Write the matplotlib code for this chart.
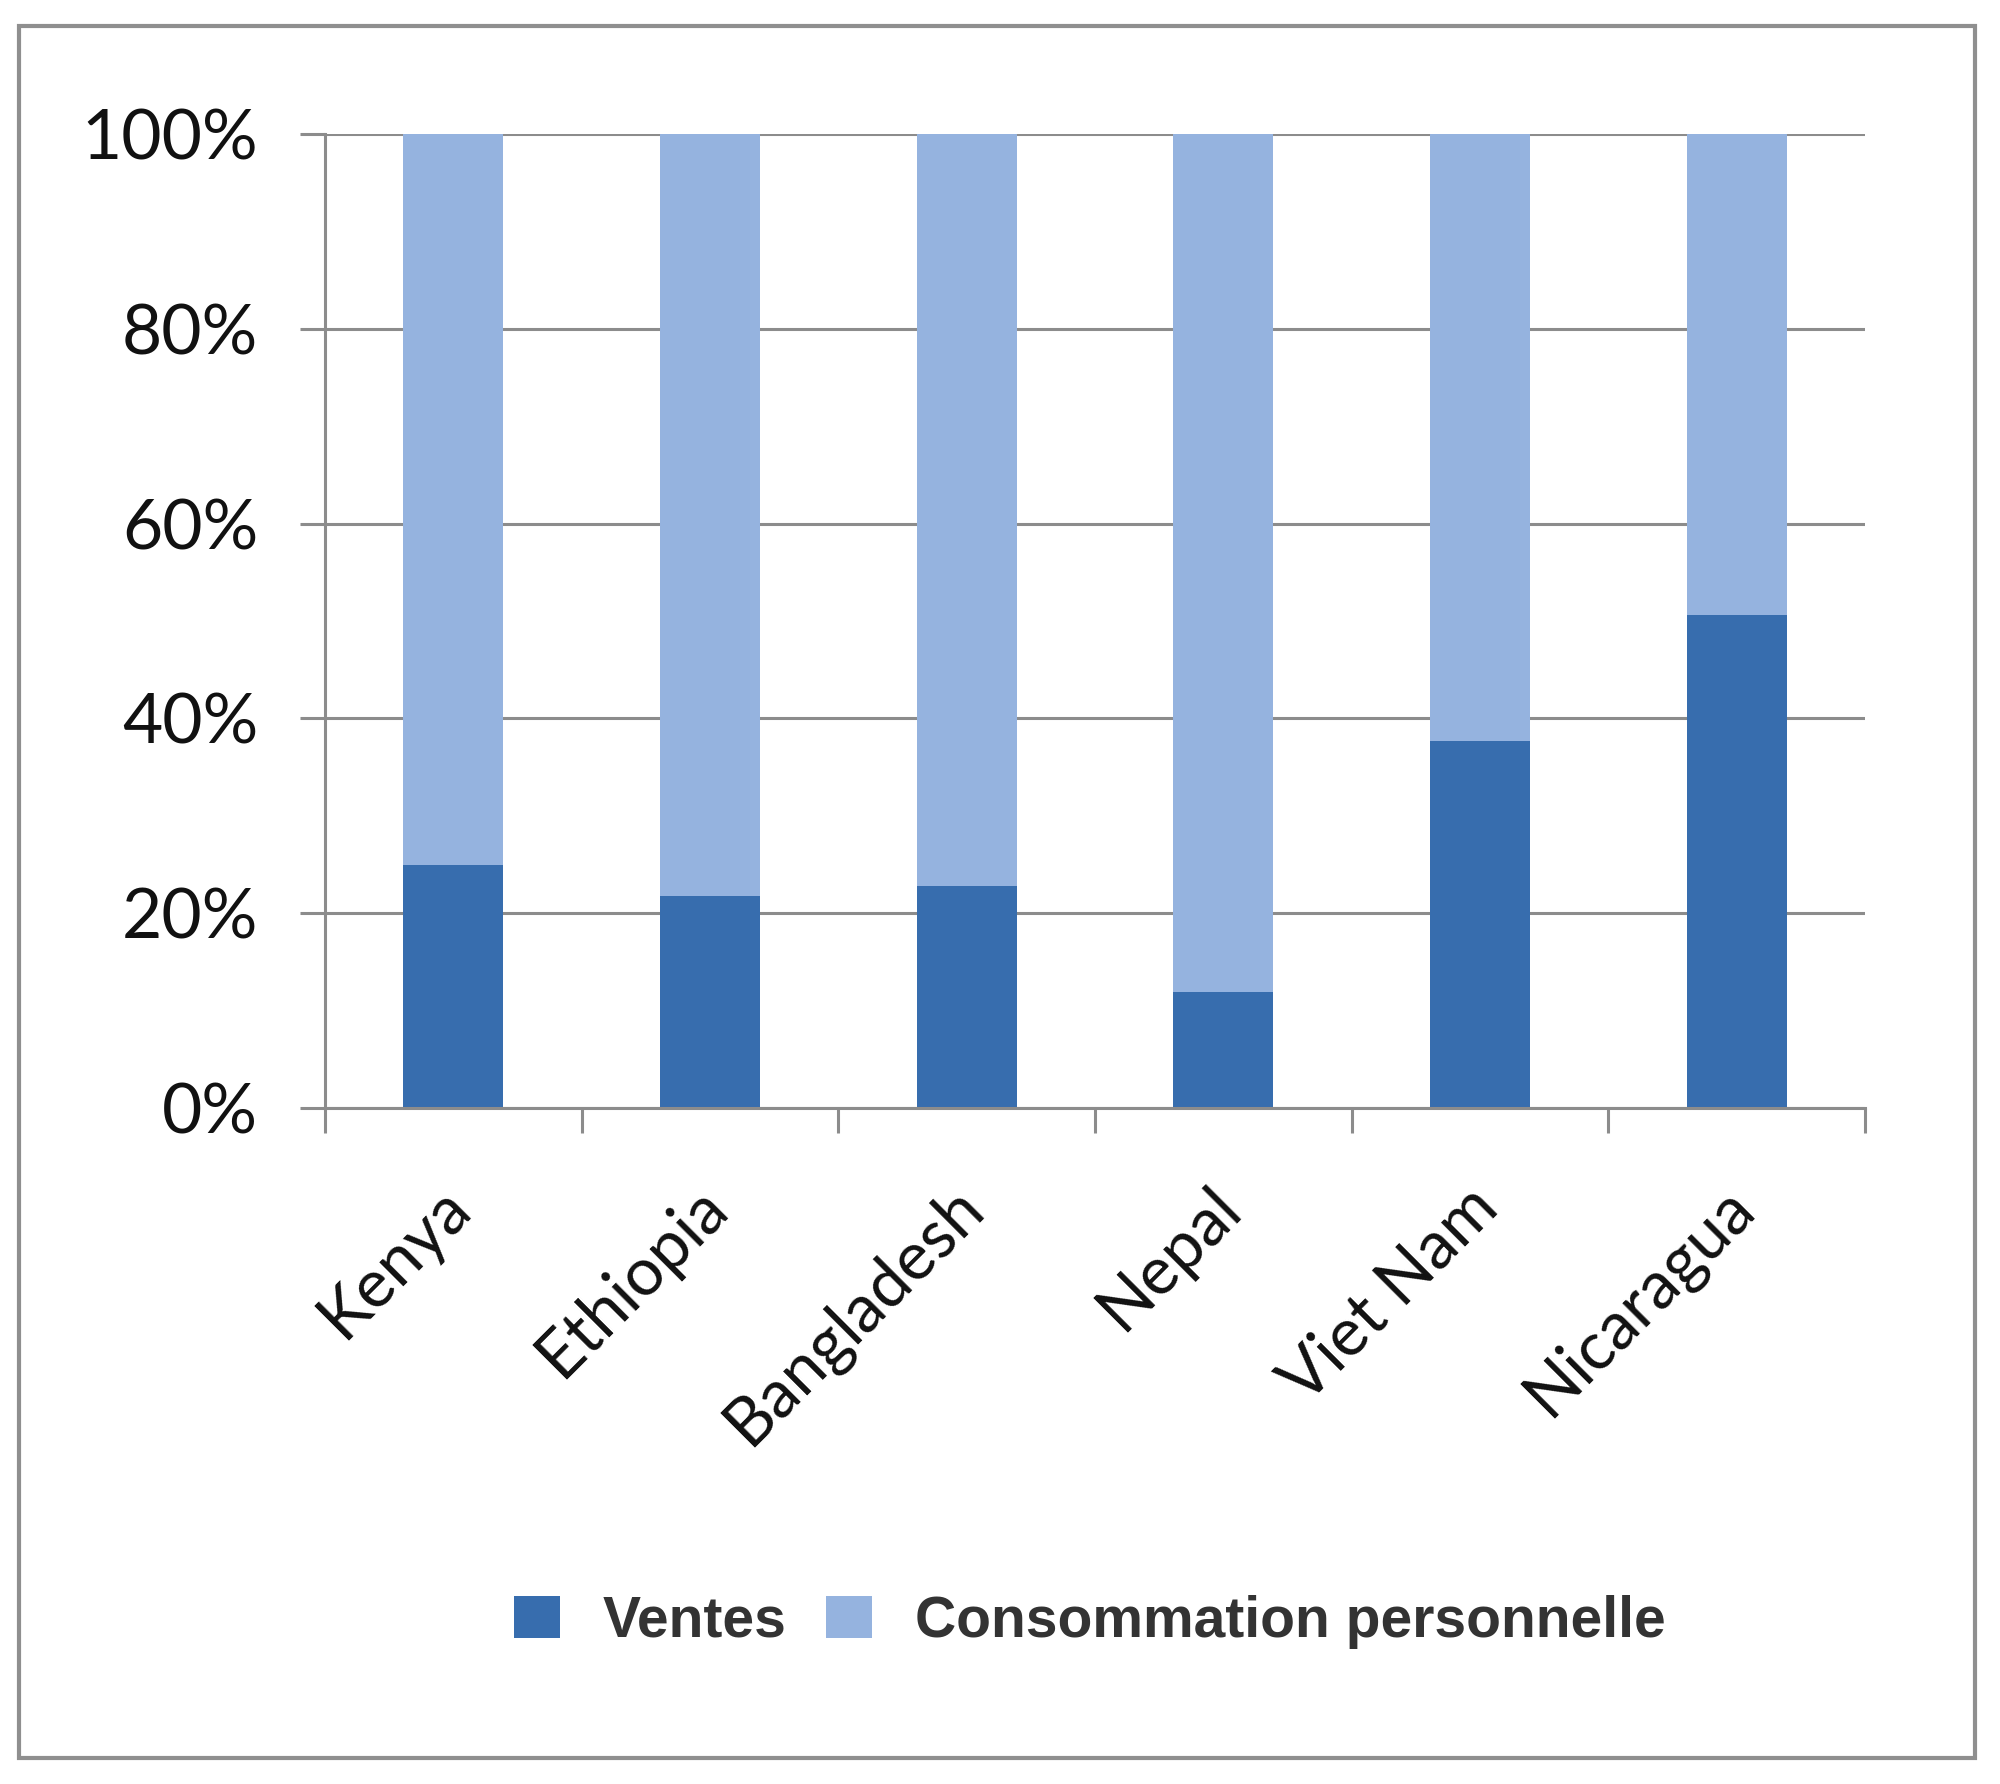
import matplotlib
matplotlib.use("Agg")
import matplotlib.pyplot as plt
from matplotlib.patches import Rectangle, Patch
import matplotlib.transforms as mtransforms
import numpy as np

countries = ["Kenya", "Ethiopia", "Bangladesh", "Nepal", "Viet Nam", "Nicaragua"]
ventes = [24.9, 21.8, 22.8, 11.9, 37.7, 50.6]
consommation = [100 - v for v in ventes]
y_ticks = [0, 20, 40, 60, 80, 100]
y_labels = ["0%", "20%", "40%", "60%", "80%", "100%"]
series_names = ["Ventes", "Consommation personnelle"]

dark = "#376DAE"
light = "#95B3DF"
grid_c = "#8C8C8C"

fig = plt.figure(figsize=(20, 17.84), dpi=100)
fig.patches.append(Rectangle((19/2000, 1-1758/1784), (1975-19)/2000, (1758-26)/1784,
                             transform=fig.transFigure, fill=False, edgecolor="#8F8F8F", lw=3))

ax = fig.add_axes([325/2000, 1-1108/1784, (1865-325)/2000, (1108-134)/1784])
x = np.arange(len(countries))
ax.bar(x, ventes, width=0.39, color=dark, zorder=3)
ax.bar(x, consommation, bottom=ventes, width=0.39, color=light, zorder=3)

ax.set_xlim(-0.5, len(countries) - 0.5)
ax.set_ylim(0, 100)
ax.set_yticks(y_ticks)
ax.set_yticklabels(y_labels, fontsize=50, family="Lato", color="#111111")
ax.yaxis.grid(True, color=grid_c, lw=2.2, zorder=0)
ax.tick_params(axis="y", length=18, width=2.2, color=grid_c, pad=30)

ax.set_xticks(x)
ax.set_xticklabels(countries, fontsize=48, family="Lato", color="#111111",
                   rotation=45, ha="right", va="center", rotation_mode="anchor")
ax.set_xticks(np.arange(-0.5, len(countries)), minor=True)
ax.tick_params(axis="x", which="major", length=0, pad=64)
ax.tick_params(axis="x", which="minor", length=18, width=2.2, color=grid_c)
offset = mtransforms.ScaledTranslation(7/100, 0, fig.dpi_scale_trans)
for lab in ax.get_xticklabels():
    lab.set_transform(lab.get_transform() + offset)

for s in ["top", "right"]:
    ax.spines[s].set_visible(False)
for s in ["left", "bottom"]:
    ax.spines[s].set_color(grid_c)
    ax.spines[s].set_linewidth(2.2)
    ax.spines[s].set_zorder(4)

handles = [Patch(facecolor=dark, edgecolor="none"), Patch(facecolor=light, edgecolor="none")]
fig.legend(handles, series_names, loc="center", bbox_to_anchor=(0.545, 0.091), ncol=2,
           frameon=False, prop={"family": "Liberation Sans", "weight": "bold", "size": 41},
           labelcolor="#333333", handlelength=0.8, handleheight=0.75,
           handletextpad=0.75, columnspacing=0.7)

fig.savefig("out.png", dpi=100)
